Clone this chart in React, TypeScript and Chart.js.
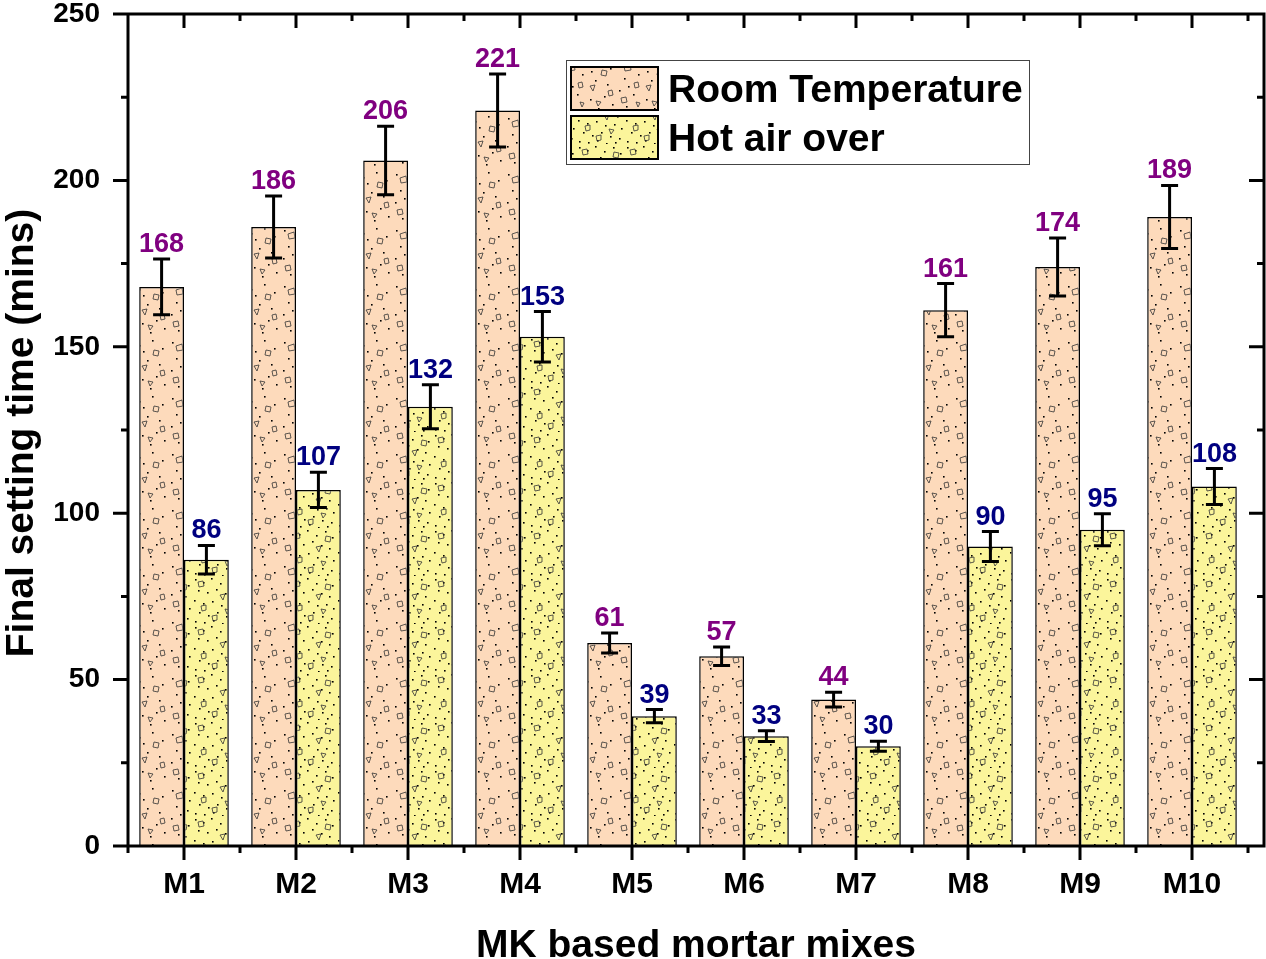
import React, { useEffect, useRef } from 'react';
import { Chart, registerables } from 'chart.js';

Chart.register(...registerables);

const categories = ['M1', 'M2', 'M3', 'M4', 'M5', 'M6', 'M7', 'M8', 'M9', 'M10'];
const roomTemp = [168, 186, 206, 221, 61, 57, 44, 161, 174, 189];
const hotAir = [86, 107, 132, 153, 39, 33, 30, 90, 95, 108];
const roomErr = [8.4, 9.3, 10.3, 11, 3, 2.8, 2.2, 8, 8.7, 9.5];
const hotErr = [4.3, 5.3, 6.6, 7.6, 2, 1.6, 1.5, 4.5, 4.8, 5.4];
const yTicks = [0, 50, 100, 150, 200, 250];
const seriesNames = ['Room Temperature', 'Hot air over'];
const labelColors = ['#800080', '#000080'];

const FONT = '"Liberation Sans", Arial, sans-serif';

const peachDots: number[][] = [
  [4, 6], [15, 3], [27, 9], [40, 4], [50, 12], [8, 22], [22, 18], [35, 24], [47, 28], [3, 34],
  [17, 38], [30, 43], [44, 40], [52, 48], [10, 50], [25, 53], [38, 52], [31, 15], [12, 30],
];
const peachShapes: number[][][] = [
  [[8, 10], [14, 8], [15, 14], [9, 15]],
  [[30, 30], [35, 29], [33, 35]],
  [[42, 14], [47, 15], [46, 20], [41, 19]],
  [[18, 27], [22, 26], [23, 31], [19, 32]],
  [[5, 42], [10, 41], [11, 46], [6, 47]],
  [[36, 45], [41, 46], [38, 50]],
  [[48, 35], [52, 34], [53, 39], [49, 40]],
  [[20, 46], [24, 47], [22, 51]],
];
const yellowDots: number[][] = [
  [3, 3], [11, 6], [19, 2], [28, 7], [37, 3], [44, 9], [6, 14], [15, 16], [24, 13], [33, 17],
  [41, 20], [2, 24], [11, 27], [20, 25], [29, 29], [38, 28], [45, 32], [7, 36], [16, 39],
  [25, 36], [34, 40], [43, 42], [3, 45], [12, 46], [21, 44], [30, 47], [39, 46],
];
const yellowShapes: number[][][] = [
  [[6, 6], [11, 5], [12, 10], [7, 11]],
  [[28, 19], [33, 18], [31, 24]],
  [[38, 8], [43, 9], [42, 14], [37, 13]],
  [[9, 30], [14, 29], [14, 34], [10, 35]],
  [[33, 33], [38, 34], [35, 38]],
  [[20, 40], [25, 39], [25, 44], [21, 45]],
];

function makePattern(
  ctx: CanvasRenderingContext2D,
  base: string,
  dots: number[][],
  shapes: number[][][],
  size: number
): CanvasPattern | string {
  const c = document.createElement('canvas');
  c.width = size;
  c.height = size;
  const g = c.getContext('2d');
  if (!g) return base;
  g.fillStyle = base;
  g.fillRect(0, 0, size, size);
  g.fillStyle = '#000';
  dots.forEach(([x, y]) => g.fillRect(x, y, 1.6, 1.6));
  g.strokeStyle = '#333';
  g.lineWidth = 0.8;
  shapes.forEach((pts) => {
    g.beginPath();
    pts.forEach(([x, y], i) => (i ? g.lineTo(x, y) : g.moveTo(x, y)));
    g.closePath();
    g.stroke();
  });
  return ctx.createPattern(c, 'repeat') || base;
}

const errorBarPlugin = {
  id: 'errorBars',
  afterDatasetsDraw(chart: any) {
    const { ctx, scales } = chart;
    const errs = [roomErr, hotErr];
    const vals = [roomTemp, hotAir];
    ctx.save();
    ctx.strokeStyle = '#000';
    ctx.lineWidth = 3;
    chart.data.datasets.forEach((_: any, di: number) => {
      const meta = chart.getDatasetMeta(di);
      meta.data.forEach((bar: any, i: number) => {
        const v = vals[di][i];
        const e = errs[di][i];
        const yt = scales.y.getPixelForValue(v + e);
        const yb = scales.y.getPixelForValue(v - e);
        const x = bar.x;
        const hw = 8.5;
        ctx.beginPath();
        ctx.moveTo(x, yt);
        ctx.lineTo(x, yb);
        ctx.moveTo(x - hw, yt);
        ctx.lineTo(x + hw, yt);
        ctx.moveTo(x - hw, yb);
        ctx.lineTo(x + hw, yb);
        ctx.stroke();
        ctx.fillStyle = labelColors[di];
        ctx.font = `bold 27px ${FONT}`;
        ctx.textAlign = 'center';
        ctx.textBaseline = 'alphabetic';
        ctx.fillText(String(v), x, yt - 7);
      });
    });
    ctx.restore();
  },
};

const framePlugin = {
  id: 'frame',
  afterDraw(chart: any) {
    const { ctx, chartArea, scales } = chart;
    const { left, right, top, bottom } = chartArea;
    const x = scales.x;
    const y = scales.y;
    const R = right + 16;
    ctx.save();
    ctx.strokeStyle = '#000';
    ctx.lineWidth = 3;
    ctx.beginPath();
    ctx.rect(left, top, R - left, bottom - top);
    for (let k = 0; k < yTicks.length; k++) {
      const py = y.getPixelForValue(yTicks[k]);
      ctx.moveTo(left - 15, py);
      ctx.lineTo(left, py);
      ctx.moveTo(R, py);
      ctx.lineTo(R - 15, py);
      if (k < yTicks.length - 1) {
        const pm = y.getPixelForValue((yTicks[k] + yTicks[k + 1]) / 2);
        ctx.moveTo(left - 7, pm);
        ctx.lineTo(left, pm);
        ctx.moveTo(R, pm);
        ctx.lineTo(R - 7, pm);
      }
    }
    const half = (x.getPixelForValue(1) - x.getPixelForValue(0)) / 2;
    categories.forEach((_, i) => {
      const px = x.getPixelForValue(i);
      ctx.moveTo(px, bottom);
      ctx.lineTo(px, bottom + 14);
      ctx.moveTo(px, top);
      ctx.lineTo(px, top + 14);
    });
    for (let i = 0; i <= categories.length; i++) {
      const bx = x.getPixelForValue(0) - half + i * 2 * half;
      ctx.moveTo(bx, bottom);
      ctx.lineTo(bx, bottom + 7);
      ctx.moveTo(bx, top);
      ctx.lineTo(bx, top + 7);
    }
    ctx.stroke();

    ctx.fillStyle = '#000';
    ctx.font = `bold 39px ${FONT}`;
    ctx.textAlign = 'center';
    ctx.textBaseline = 'alphabetic';
    ctx.fillText('MK based mortar mixes', (left + R) / 2, 957);
    ctx.save();
    ctx.translate(33, (top + bottom) / 2 + 3);
    ctx.rotate(-Math.PI / 2);
    ctx.fillText('Final setting time (mins)', 0, 0);
    ctx.restore();

    const lx = 566;
    const ly = 60;
    ctx.lineWidth = 1;
    ctx.strokeStyle = '#444';
    ctx.fillStyle = '#fff';
    ctx.fillRect(lx, ly, 463, 104);
    ctx.strokeRect(lx + 0.5, ly + 0.5, 463, 104);
    chart.data.datasets.forEach((ds: any, di: number) => {
      const sy = ly + 7 + di * 49;
      ctx.fillStyle = ds.backgroundColor;
      ctx.fillRect(571, sy, 87, 43);
      ctx.lineWidth = 2;
      ctx.strokeStyle = '#000';
      ctx.strokeRect(571, sy, 87, 43);
      ctx.fillStyle = '#000';
      ctx.font = `bold 39px ${FONT}`;
      ctx.textAlign = 'left';
      ctx.fillText(seriesNames[di], 668, sy + 35);
    });
    ctx.restore();
  },
};

export default function App() {
  const ref = useRef<HTMLCanvasElement>(null);
  useEffect(() => {
    const canvas = ref.current;
    if (!canvas) return;
    const ctx = canvas.getContext('2d');
    if (!ctx) return;
    Chart.defaults.font.family = FONT;
    const peach = makePattern(ctx, '#FDDABB', peachDots, peachShapes, 56);
    const yellow = makePattern(ctx, '#FBF59B', yellowDots, yellowShapes, 48);
    const chart = new Chart(ctx, {
      type: 'bar',
      data: {
        labels: categories,
        datasets: [
          {
            label: seriesNames[0],
            data: roomTemp,
            backgroundColor: peach as any,
            borderColor: '#000',
            borderWidth: 1.5,
            categoryPercentage: 0.8,
            barPercentage: 1,
          },
          {
            label: seriesNames[1],
            data: hotAir,
            backgroundColor: yellow as any,
            borderColor: '#000',
            borderWidth: 1.5,
            categoryPercentage: 0.8,
            barPercentage: 1,
          },
        ],
      },
      options: {
        responsive: false,
        animation: false,
        devicePixelRatio: 1,
        layout: { padding: { top: 14, right: 18, left: 0, bottom: 0 } },
        plugins: { legend: { display: false }, tooltip: { enabled: false } },
        scales: {
          x: {
            grid: { display: false, drawTicks: false },
            border: { display: false },
            ticks: { color: '#000', font: { size: 30, weight: 'bold' }, padding: 21, maxRotation: 0 },
            afterFit: (s: any) => {
              s.height = 113;
              s.paddingLeft = 0;
              s.paddingRight = 0;
            },
          },
          y: {
            min: 0,
            max: 250,
            grid: { display: false, drawTicks: false },
            border: { display: false },
            ticks: { color: '#000', stepSize: 50, font: { size: 28, weight: 'bold' }, padding: 28 },
            afterFit: (s: any) => {
              s.width = 128;
              s.paddingTop = 0;
              s.paddingBottom = 0;
            },
          },
        },
      },
      plugins: [errorBarPlugin, framePlugin],
    });
    return () => chart.destroy();
  }, []);
  return (
    <div style={{ position: 'fixed', left: 0, top: 0, width: 1266, height: 959, background: '#fff' }}>
      <canvas ref={ref} width={1266} height={959} style={{ display: 'block', width: 1266, height: 959 }} />
    </div>
  );
}
